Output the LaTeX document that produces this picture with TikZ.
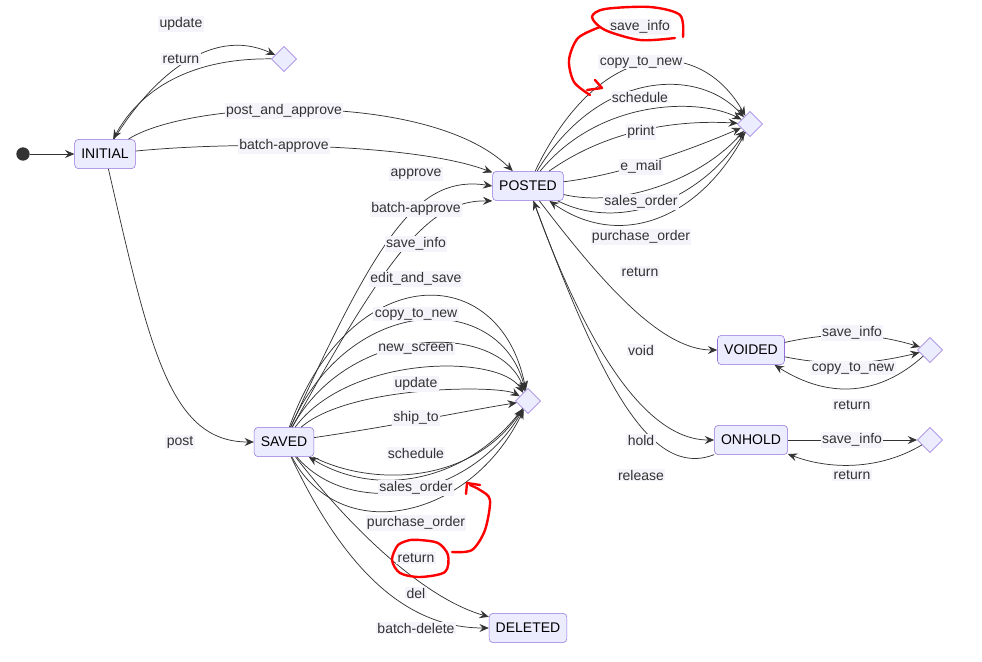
\documentclass[tikz,border=0pt]{standalone}
\usepackage{fontspec}
\setmainfont{Liberation Sans}
\usetikzlibrary{shapes.geometric,arrows.meta}
\definecolor{sfill}{HTML}{ECECFF}
\definecolor{sdraw}{HTML}{9370DB}
\definecolor{lfill}{HTML}{F4F4FA}
\definecolor{ln}{HTML}{333333}
\begin{document}
\begin{tikzpicture}[x=0.75pt,y=-0.75pt,
  st/.style={draw=sdraw,fill=sfill,rounded corners=3pt,minimum height=22pt,inner xsep=5pt,font=\fontsize{10.5}{12}\selectfont,text=black},
  ch/.style={diamond,draw=sdraw,fill=sfill,minimum size=19pt,inner sep=0pt},
  ed/.style={draw=ln,line width=0.55pt,-{Stealth[length=7pt,width=6pt,inset=2.5pt]}},
  lab/.style={fill=lfill,inner sep=1pt,font=\fontsize{10.5}{12}\selectfont,text=ln},
  red/.style={draw=red,line width=1.8pt,line cap=round,line join=round}]
\useasboundingbox (0,0) rectangle (982,661);
\node[circle,fill=ln,minimum size=10pt,inner sep=0] (start) at (23,154) {};
\node[st] (INITIAL) at (105,154) {INITIAL};
\node[st] (POSTED) at (528,186) {POSTED};
\node[st] (SAVED) at (284,442) {SAVED};
\node[st] (VOIDED) at (751,350) {VOIDED};
\node[st] (ONHOLD) at (751,440) {ONHOLD};
\node[st] (DELETED) at (528,628) {DELETED};
\node[ch] (d1) at (284,59) {};
\node[ch] (d2) at (750,124) {};
\node[ch] (d3) at (528,401) {};
\node[ch] (d4) at (930,350) {};
\node[ch] (d5) at (930,440) {};
% INITIAL
\draw[ed] (start) -- (INITIAL);
\draw[ed] (INITIAL) .. controls (150,80) and (210,25) .. (d1);
\draw[ed] (d1) .. controls (190,58) and (140,90) .. (INITIAL);
\draw[ed] (INITIAL) .. controls (190,100) and (430,90) .. (POSTED);
\draw[ed] (INITIAL) .. controls (250,140) and (420,145) .. (POSTED);
\draw[ed] (INITIAL) .. controls (150,350) and (170,442) .. (SAVED);
% SAVED
\draw[ed] (SAVED) .. controls (380,230) and (420,175) .. (POSTED.west);
\draw[ed] (SAVED) .. controls (390,250) and (430,200) .. (POSTED.south west);
\draw[ed] (SAVED) .. controls (350,259) and (500,259) .. (d3);
\draw[ed] (SAVED) .. controls (350,291) and (500,291) .. (d3);
\draw[ed] (SAVED) .. controls (350,322) and (500,322) .. (d3);
\draw[ed] (SAVED) .. controls (350,354) and (500,354) .. (d3);
\draw[ed] (SAVED) .. controls (350,385) and (500,385) .. (d3);
\draw[ed] (SAVED) .. controls (400,425) and (470,410) .. (d3);
\draw[ed] (SAVED) .. controls (370,486) and (470,486) .. (d3);
\draw[ed] (SAVED) .. controls (350,519) and (470,500) .. (d3);
\draw[ed] (SAVED) .. controls (340,548) and (470,520) .. (d3);
\draw[ed] (d3) .. controls (470,480) and (380,500) .. (SAVED);
\draw[ed] (SAVED) .. controls (360,540) and (430,600) .. (DELETED);
\draw[ed] (SAVED) .. controls (340,560) and (400,628) .. (DELETED);
% POSTED
\draw[ed] (POSTED) .. controls (600,36) and (700,36) .. (d2);
\draw[ed] (POSTED) .. controls (600,68) and (700,68) .. (d2);
\draw[ed] (POSTED) .. controls (600,98) and (700,98) .. (d2);
\draw[ed] (POSTED) .. controls (620,121) and (700,121) .. (d2);
\draw[ed] (POSTED) .. controls (620,175) and (690,150) .. (d2);
\draw[ed] (POSTED) .. controls (620,208) and (700,180) .. (d2);
\draw[ed] (POSTED) .. controls (620,232) and (700,200) .. (d2);
\draw[ed] (d2) .. controls (700,220) and (620,250) .. (POSTED);
\draw[ed] (POSTED) .. controls (600,280) and (660,350) .. (VOIDED);
\draw[ed] (POSTED) .. controls (580,330) and (640,440) .. (ONHOLD);
\draw[ed] (ONHOLD) .. controls (650,480) and (600,380) .. (POSTED);
% VOIDED / ONHOLD
\draw[ed] (VOIDED) .. controls (840,330) and (880,335) .. (d4);
\draw[ed] (VOIDED) .. controls (840,368) and (880,362) .. (d4);
\draw[ed] (d4) .. controls (880,395) and (830,400) .. (VOIDED);
\draw[ed] (ONHOLD) -- (d5);
\draw[ed] (d5) .. controls (880,470) and (830,470) .. (ONHOLD);
% labels
\node[lab] at (181,24) {update};
\node[lab] at (181,59) {return};
\node[lab] at (284,111) {post\_and\_approve};
\node[lab] at (284,146) {batch-approve};
\node[lab] at (180,442) {post};
\node[lab] at (416,174) {approve};
\node[lab] at (416,209) {batch-approve};
\node[lab] at (416,244) {save\_info};
\node[lab] at (416,279) {edit\_and\_save};
\node[lab] at (416,314) {copy\_to\_new};
\node[lab] at (416,349) {new\_screen};
\node[lab] at (416,384) {update};
\node[lab] at (416,418) {ship\_to};
\node[lab] at (416,453) {schedule};
\node[lab] at (416,488) {sales\_order};
\node[lab] at (416,523) {purchase\_order};
\node[lab] at (416,558) {return};
\node[lab] at (416,593) {del};
\node[lab] at (416,628) {batch-delete};
\node[lab] at (640,27) {save\_info};
\node[lab] at (641,62) {copy\_to\_new};
\node[lab] at (640,97) {schedule};
\node[lab] at (641,132) {print};
\node[lab] at (641,167) {e\_mail};
\node[lab] at (641,202) {sales\_order};
\node[lab] at (641,237) {purchase\_order};
\node[lab] at (640,272) {return};
\node[lab] at (641,350) {void};
\node[lab] at (641,440) {hold};
\node[lab] at (641,475) {release};
\node[lab] at (852,333) {save\_info};
\node[lab] at (853,368) {copy\_to\_new};
\node[lab] at (852,405) {return};
\node[lab] at (852,440) {save\_info};
\node[lab] at (852,475) {return};
% red annotations
\draw[red] plot[smooth] coordinates {(683,37) (680,15) (650,7) (605,9) (592,17) (605,30) (640,40) (675,38)};
\draw[red] plot[smooth] coordinates {(600,27) (578,38) (569,60) (574,82) (590,95)};
\draw[red] (587,90) -- (602,88) -- (595,80);
\draw[red] plot[smooth] coordinates {(410,540) (398,545) (392,560) (400,573) (420,577) (445,572) (448,555) (438,543) (420,540) (410,540)};
\draw[red] plot[smooth] coordinates {(452,552) (472,550) (485,530) (490,500) (480,490) (470,485)};
\draw[red] (466,494) -- (467,483) -- (480,485);
\end{tikzpicture}
\end{document}
